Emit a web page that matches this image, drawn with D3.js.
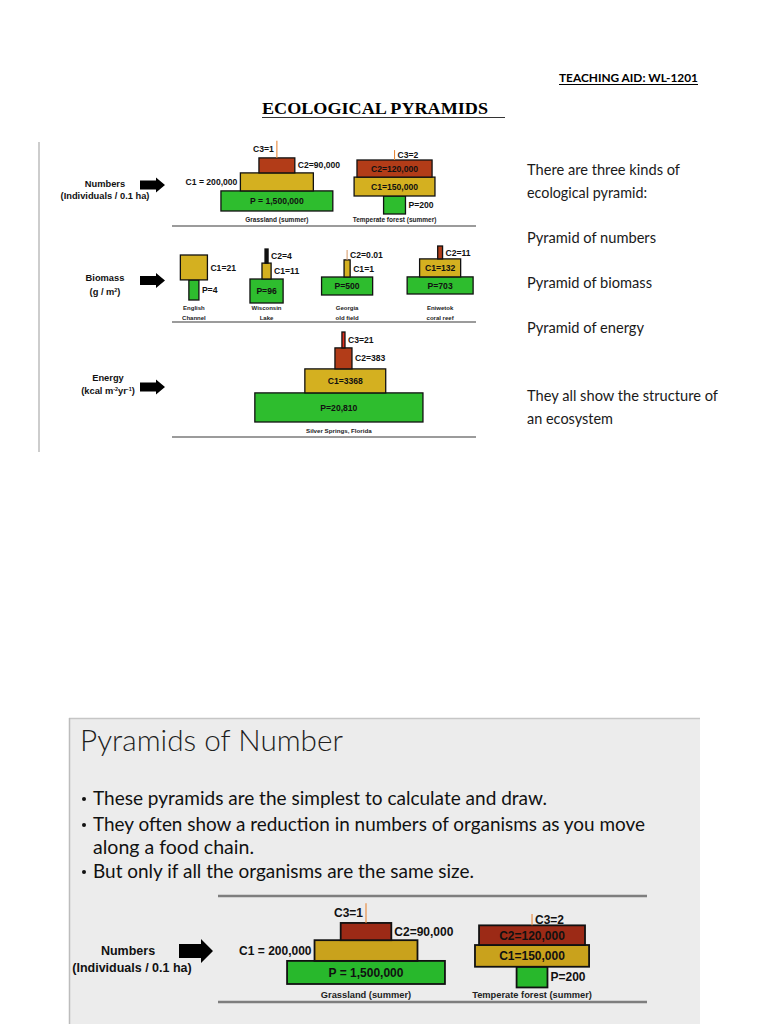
<!DOCTYPE html>
<html>
<head>
<meta charset="utf-8">
<script src="https://cdn.jsdelivr.net/npm/d3@7"></script>
<style>
  html, body { margin: 0; padding: 0; background: #fff; }
  svg { display: block; }
</style>
</head>
<body>
<svg id="page" width="768" height="1024"></svg>
<script>
// ---- values ----
const levels = ["P", "C1", "C2", "C3"];

const rowNames = ["Numbers", "Biomass", "Energy"];
const rowUnits = ["(Individuals / 0.1 ha)", "(g / m{2})", "(kcal m{-2}yr{-1})"];

// pyramid of numbers (individuals / 0.1 ha)
const numberSites = ["Grassland (summer)", "Temperate forest (summer)"];
const numberLabels = [
  ["P = 1,500,000", "C1 = 200,000", "C2=90,000", "C3=1"],
  ["P=200", "C1=150,000", "C2=120,000", "C3=2"]
];
// drawn bar widths / heights in diagram units (schematic, not to value scale)
const numberWidths = [[36.8, 24, 11.8, 0], [7.2, 26.6, 24.7, 0]];
const numberHeights = [[6.7, 6, 5, 5.7], [6, 6.3, 5.7, 3.3]];

// pyramid of biomass (g / m2)
const biomassSites = [["English", "Channel"], ["Wisconsin", "Lake"], ["Georgia", "old field"], ["Eniwetok", "coral reef"]];
const biomassLabels = [
  ["P=4", "C1=21"],
  ["P=96", "C1=11", "C2=4"],
  ["P=500", "C1=1", "C2=0.01"],
  ["P=703", "C1=132", "C2=11"]
];
const biomassWidths = [[3.3, 8.9], [10.9, 3, 1], [16.8, 2, 0], [21.7, 13.5, 1.6]];
const biomassHeights = [[6.7, 8.3], [8, 5.3, 4.7], [6, 5.7, 3.3], [5.7, 6, 4.3]];

// pyramid of energy (kcal m-2 yr-1)
const energySite = "Silver Springs, Florida";
const energyLabels = ["P=20,810", "C1=3368", "C2=383", "C3=21"];
const energyWidths = [55.3, 26.6, 5.6, 1];
const energyHeights = [9.7, 8, 7, 5.3];

const sideNotes = [
  "There are three kinds of", "ecological pyramid:",
  "Pyramid of numbers", "Pyramid of biomass", "Pyramid of energy",
  "They all show the structure of", "an ecosystem"
];

const slideTitle = "Pyramids of Number";
const slideBullets = [
  ["These pyramids are the simplest to calculate and draw."],
  ["They often show a reduction in numbers of organisms as you move", "along a food chain."],
  ["But only if all the organisms are the same size."]
];

// ---- layout ----
const sans = "'Liberation Sans', Arial, sans-serif";
const body = "Lato, 'Open Sans', sans-serif";

const svg = d3.select("#page");

// sheet panel and the slide copy of the numbers diagram
const panelTop = {
  x: d3.scaleLinear().domain([0, 100]).range([172, 476]),
  w: d3.scaleLinear().domain([0, 100]).range([0, 304]),
  h: d3.scaleLinear().domain([0, 10]).range([0, 30]),
  font: 8.6, siteFont: 6.5,
  fills: { P: "#2ebd2e", C1: "#d4b020", C2: "#b23c18", C3: "#e2301e" }
};
const panelSlide = {
  x: d3.scaleLinear().domain([0, 100]).range([218, 647]),
  w: d3.scaleLinear().domain([0, 100]).range([0, 429]),
  h: d3.scaleLinear().domain([0, 10]).range([0, 34.5]),
  font: 12, siteFont: 9.3,
  fills: { P: "#28b82c", C1: "#c9a21c", C2: "#9c2a16", C3: "#e2301e" }
};

function drawPyramid(g, panel, o) {
  let y = o.base;
  o.widths.forEach((wu, i) => {
    const lvl = levels[i];
    const h = panel.h(o.heights[i]);
    const w = panel.w(wu);
    const cx = panel.x(o.center + (o.shift ? o.shift[i] : 0));
    const top = y - h;
    if (wu === 0) {
      g.append("line")
        .attr("x1", cx).attr("x2", cx)
        .attr("y1", top).attr("y2", y)
        .attr("stroke", o.lineColor || "#e8883a")
        .attr("stroke-width", 1.1);
    } else {
      g.append("rect")
        .attr("x", cx - w / 2).attr("y", top)
        .attr("width", w).attr("height", h)
        .attr("fill", (o.fillOverride && o.fillOverride[lvl]) || panel.fills[lvl])
        .attr("stroke", "#111")
        .attr("stroke-width", panel.font > 10 ? 1.8 : 1.3);
    }
    const place = o.place[i];
    const t = g.append("text")
      .attr("y", top + h / 2 + panel.font * 0.36)
      .attr("font-family", sans)
      .attr("font-weight", "bold")
      .attr("font-size", panel.font)
      .attr("fill", "#111")
      .text(o.labels[i]);
    if (place === "in") t.attr("x", cx).attr("text-anchor", "middle");
    else if (place === "right") t.attr("x", cx + w / 2 + 3).attr("text-anchor", "start");
    else t.attr("x", cx - w / 2 - 3).attr("text-anchor", "end");
    y = top;
  });
  const lines = Array.isArray(o.site) ? o.site : [o.site];
  lines.forEach((s, j) => {
    g.append("text")
      .attr("x", panel.x(o.center))
      .attr("y", o.siteY + j * (panel.siteFont + 3.5))
      .attr("text-anchor", "middle")
      .attr("font-family", sans)
      .attr("font-weight", "bold")
      .attr("font-size", o.siteFont || panel.siteFont)
      .attr("fill", "#222")
      .text(s);
  });
}

function arrow(g, x0, cy, len, shaftH, headH, headL) {
  const p = d3.path();
  p.moveTo(x0, cy - shaftH / 2);
  p.lineTo(x0 + len - headL, cy - shaftH / 2);
  p.lineTo(x0 + len - headL, cy - headH / 2);
  p.lineTo(x0 + len, cy);
  p.lineTo(x0 + len - headL, cy + headH / 2);
  p.lineTo(x0 + len - headL, cy + shaftH / 2);
  p.lineTo(x0, cy + shaftH / 2);
  p.closePath();
  g.append("path").attr("d", p.toString()).attr("fill", "#000");
}

// text with {superscript} parts
function unitText(g, x, y, str, size) {
  const t = g.append("text")
    .attr("x", x).attr("y", y)
    .attr("text-anchor", "middle")
    .attr("font-family", sans)
    .attr("font-weight", "bold")
    .attr("font-size", size)
    .attr("fill", "#111");
  const rise = size * 0.32;
  let raised = false;
  str.split(/[{}]/).forEach((part, i) => {
    if (!part) return;
    const sup = i % 2 === 1;
    const dy = sup === raised ? 0 : (sup ? -rise : rise);
    t.append("tspan")
      .attr("dy", dy)
      .attr("font-size", sup ? size * 0.58 : size)
      .text(part);
    raised = sup;
  });
  return t;
}

// ---- header ----
svg.append("text")
  .attr("x", 559).attr("y", 82)
  .attr("font-family", body).attr("font-weight", "bold").attr("font-size", 11)
  .attr("textLength", 139).attr("lengthAdjust", "spacingAndGlyphs")
  .text("TEACHING AID: WL-1201");
svg.append("line").attr("x1", 559).attr("x2", 698).attr("y1", 84.5).attr("y2", 84.5)
  .attr("stroke", "#000").attr("stroke-width", 1);

svg.append("text")
  .attr("x", 262).attr("y", 114)
  .attr("font-family", "'Liberation Serif', 'DejaVu Serif', serif").attr("font-weight", "bold").attr("font-size", 16.5)
  .attr("textLength", 226).attr("lengthAdjust", "spacingAndGlyphs")
  .text("ECOLOGICAL PYRAMIDS");
svg.append("line").attr("x1", 262).attr("x2", 505).attr("y1", 117.5).attr("y2", 117.5)
  .attr("stroke", "#333").attr("stroke-width", 1.2);

// ---- figure on the sheet ----
const fig = svg.append("g");
fig.append("line").attr("x1", 39).attr("x2", 39).attr("y1", 142).attr("y2", 452)
  .attr("stroke", "#bdbdbd").attr("stroke-width", 1.5);

const rowLabelY = [[187, 199], [281, 295], [381, 394]];
const rowLabelX = [105, 105, 108];
const arrowY = [185, 280.5, 387];
rowNames.forEach((name, i) => {
  fig.append("text")
    .attr("x", rowLabelX[i]).attr("y", rowLabelY[i][0])
    .attr("text-anchor", "middle")
    .attr("font-family", sans).attr("font-weight", "bold").attr("font-size", 9.3)
    .attr("fill", "#111")
    .text(name);
  unitText(fig, rowLabelX[i], rowLabelY[i][1], rowUnits[i], 9.3);
  arrow(fig, 140, arrowY[i], 25, 9, 15, 9);
});

[226, 322, 437].forEach(y => {
  fig.append("line").attr("x1", 172).attr("x2", 476).attr("y1", y).attr("y2", y)
    .attr("stroke", "#7a7a7a").attr("stroke-width", 1.5);
});

function numbersDiagram(g, panel, base, siteY) {
  drawPyramid(g, panel, {
    center: 34.5, base: base, widths: numberWidths[0], heights: numberHeights[0],
    labels: numberLabels[0], place: ["in", "left", "right", "left"],
    site: numberSites[0], siteY: siteY
  });
  drawPyramid(g, panel, {
    center: 73.2, base: base + panel.h(1), widths: numberWidths[1], heights: numberHeights[1],
    labels: numberLabels[1], place: ["right", "in", "in", "right"],
    site: numberSites[1], siteY: siteY
  });
}

numbersDiagram(fig, panelTop, 211, 222);

const biomassCenters = [7.2, 31.1, 57.6, 88.2];
const biomassBase = [300, 303, 295, 294];
const biomassPlace = [["right", "right"], ["in", "right", "right"], ["in", "right", "right"], ["in", "in", "right"]];
biomassLabels.forEach((labels, i) => {
  drawPyramid(fig, panelTop, {
    center: biomassCenters[i], base: biomassBase[i],
    widths: biomassWidths[i], heights: biomassHeights[i],
    labels: labels, place: biomassPlace[i],
    site: biomassSites[i], siteY: 310, siteFont: 6,
    fillOverride: i === 1 ? { C2: "#111" } : null,
    lineColor: "#d9a070"
  });
});

drawPyramid(fig, panelTop, {
  center: 54.9, base: 422, widths: energyWidths, heights: energyHeights,
  shift: [0, 2.1, 1.5, 1.5],
  labels: energyLabels, place: ["in", "in", "right", "right"],
  site: energySite, siteY: 433, siteFont: 6.2
});

// ---- notes on the right ----
const noteY = [175, 198, 243, 288, 333, 401, 424];
const noteW = [153, 120, 129, 125, 117, 191, 86];
sideNotes.forEach((s, i) => {
  svg.append("text")
    .attr("x", 527).attr("y", noteY[i])
    .attr("font-family", body).attr("font-size", 16).attr("fill", "#1a1a1a")
    .attr("textLength", noteW[i]).attr("lengthAdjust", "spacingAndGlyphs")
    .text(s);
});

// ---- slide copy at the bottom ----
const slide = svg.append("g");
slide.append("rect").attr("x", 69).attr("y", 718).attr("width", 631).attr("height", 306)
  .attr("fill", "#ececec");
slide.append("line").attr("x1", 69).attr("x2", 700).attr("y1", 718.5).attr("y2", 718.5)
  .attr("stroke", "#c6c6c6").attr("stroke-width", 1.5);
slide.append("line").attr("x1", 69.5).attr("x2", 69.5).attr("y1", 718).attr("y2", 1024)
  .attr("stroke", "#bcbcbc").attr("stroke-width", 1.5);

slide.append("text")
  .attr("x", 80).attr("y", 751)
  .attr("font-family", body).attr("font-weight", 300).attr("font-size", 29).attr("fill", "#1e1e1e")
  .attr("textLength", 263).attr("lengthAdjust", "spacingAndGlyphs")
  .text(slideTitle);

const bulletY = [[805], [831, 854], [878]];
const bulletW = [[454], [552, 161], [381]];
slideBullets.forEach((lines, i) => {
  slide.append("circle")
    .attr("cx", 84).attr("cy", bulletY[i][0] - 6)
    .attr("r", 2).attr("fill", "#111");
  lines.forEach((s, j) => {
    slide.append("text")
      .attr("x", 93).attr("y", bulletY[i][j])
      .attr("font-family", body).attr("font-size", 20).attr("fill", "#111")
      .attr("textLength", bulletW[i][j]).attr("lengthAdjust", "spacingAndGlyphs")
      .text(s);
  });
});

[896, 1002].forEach(y => {
  slide.append("line").attr("x1", 218).attr("x2", 647).attr("y1", y).attr("y2", y)
    .attr("stroke", "#7e7e7e").attr("stroke-width", 2.5);
});
slide.append("text")
  .attr("x", 128).attr("y", 955)
  .attr("text-anchor", "middle")
  .attr("font-family", sans).attr("font-weight", "bold").attr("font-size", 12.5)
  .attr("fill", "#111")
  .text(rowNames[0]);
unitText(slide, 132, 972, rowUnits[0], 12.5);
arrow(slide, 179, 951, 34, 14, 24, 12);

numbersDiagram(slide, panelSlide, 984, 998);
</script>
</body>
</html>
